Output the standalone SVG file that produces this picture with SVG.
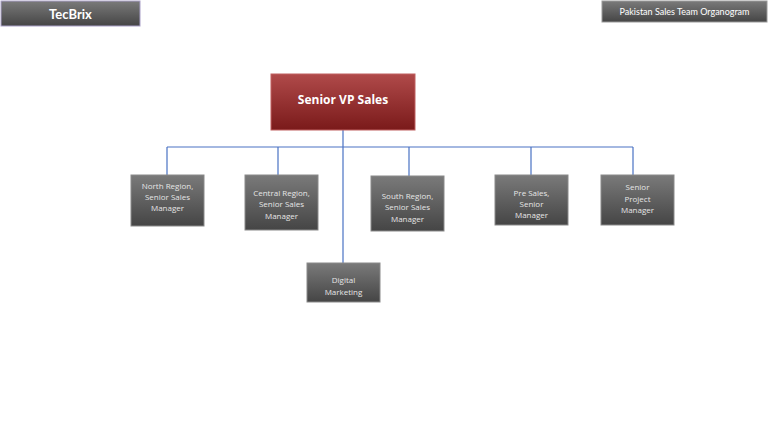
<svg xmlns="http://www.w3.org/2000/svg" width="768" height="433" viewBox="0 0 768 433">
<defs>
<linearGradient id="g" x1="0" y1="0" x2="0" y2="1"><stop offset="0" stop-color="#7a7a7a"/><stop offset="1" stop-color="#454545"/></linearGradient>
<linearGradient id="r" x1="0" y1="0" x2="0" y2="1"><stop offset="0" stop-color="#b04a4a"/><stop offset="1" stop-color="#7a1a1a"/></linearGradient>
</defs>
<style>
.b{fill:url(#g);stroke:#8a8a8a;stroke-width:1}
.t{font-family:"Open Sans","Liberation Sans",sans-serif;font-size:8px;fill:#e6e6e6;text-anchor:middle}
.c{stroke:#4a72c4;stroke-width:1.2;fill:none}
</style>
<rect width="768" height="433" fill="#fff"/>
<g id="hdr-left"><rect x="1" y="1" width="139" height="25" fill="url(#g)" stroke="#a9a0c8"/><text x="70.5" y="19" font-family="Lato,'Liberation Sans',sans-serif" font-weight="bold" font-size="13" fill="#fff" text-anchor="middle">TecBrix</text></g>
<g id="hdr-right"><rect x="602" y="1" width="165" height="21" fill="url(#g)" stroke="#999"/><text x="684.5" y="15" font-family="Lato,'Liberation Sans',sans-serif" font-size="9" fill="#fff" text-anchor="middle">Pakistan Sales Team Organogram</text></g>
<g id="connectors">
<path class="c" d="M343 130V263M167 147H633M167 147V175M278 147V175M409 147V176M531 147V175M633 147V175"/>
</g>
<g id="vp"><rect x="271" y="74" width="144" height="56" fill="url(#r)" stroke="#c06060"/><text x="343" y="104" font-family="'Open Sans','Liberation Sans',sans-serif" font-weight="bold" font-size="12" fill="#fff" text-anchor="middle">Senior VP Sales</text></g>
<g id="north"><rect class="b" x="131" y="175" width="73" height="51"/><text class="t" x="167.5" y="189">North Region,</text><text class="t" x="167.5" y="200">Senior Sales</text><text class="t" x="167.5" y="211">Manager</text></g>
<g id="central"><rect class="b" x="245" y="175" width="73" height="55"/><text class="t" x="281.5" y="196">Central Region,</text><text class="t" x="281.5" y="207">Senior Sales</text><text class="t" x="281.5" y="219">Manager</text></g>
<g id="south"><rect class="b" x="371" y="176" width="73" height="55"/><text class="t" x="407.5" y="199">South Region,</text><text class="t" x="407.5" y="210">Senior Sales</text><text class="t" x="407.5" y="222">Manager</text></g>
<g id="presales"><rect class="b" x="495" y="175" width="73" height="50"/><text class="t" x="531.5" y="196">Pre Sales,</text><text class="t" x="531.5" y="207">Senior</text><text class="t" x="531.5" y="218">Manager</text></g>
<g id="pm"><rect class="b" x="601" y="175" width="73" height="50"/><text class="t" x="637.5" y="190">Senior</text><text class="t" x="637.5" y="202">Project</text><text class="t" x="637.5" y="213">Manager</text></g>
<g id="digital"><rect class="b" x="307" y="263" width="73" height="39"/><text class="t" x="343.5" y="283">Digital</text><text class="t" x="343.5" y="295">Marketing</text></g>
</svg>
